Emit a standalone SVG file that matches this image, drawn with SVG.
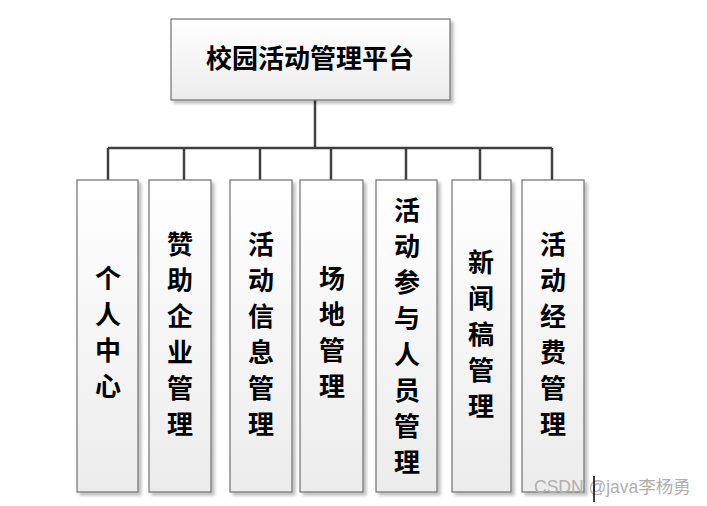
<svg xmlns="http://www.w3.org/2000/svg" width="707" height="506" viewBox="0 0 707 506">
<defs>
<linearGradient id="g" x1="0" y1="0" x2="0" y2="1"><stop offset="0" stop-color="#ffffff"/><stop offset="1" stop-color="#ececec"/></linearGradient>
<filter id="s" x="-10%" y="-10%" width="130%" height="130%"><feDropShadow dx="3" dy="3" stdDeviation="1.5" flood-color="#000" flood-opacity="0.25"/></filter>
</defs>
<style>
.b{fill:url(#g);stroke:#707070;stroke-width:1.2;filter:url(#s)}
.t{font-family:"Noto Sans CJK SC","Liberation Sans",sans-serif;font-weight:bold;font-size:26px;fill:#000;text-anchor:middle}
.c{stroke:#404040;stroke-width:2.5;fill:none}
</style>
<rect width="707" height="506" fill="#fff"/>
<g id="connectors">
<path class="c" d="M315 100V148M108 148H552M108 148V180M184 148V180M260 148V180M331 148V180M406 148V180M480 148V180M552 148V180"/>
</g>
<g id="root"><rect class="b" x="171" y="19" width="279" height="81"/><text class="t" x="310" y="68" font-size="27">校园活动管理平台</text></g>
<g id="n1"><rect class="b" x="77" y="180" width="61" height="312"/><text class="t" x="108" y="288">个<tspan x="108" dy="36">人</tspan><tspan x="108" dy="36">中</tspan><tspan x="108" dy="36">心</tspan></text></g>
<g id="n2"><rect class="b" x="149" y="180" width="62" height="312"/><text class="t" x="180" y="254">赞<tspan x="180" dy="36">助</tspan><tspan x="180" dy="36">企</tspan><tspan x="180" dy="36">业</tspan><tspan x="180" dy="36">管</tspan><tspan x="180" dy="36">理</tspan></text></g>
<g id="n3"><rect class="b" x="230" y="180" width="62" height="312"/><text class="t" x="261" y="254">活<tspan x="261" dy="36">动</tspan><tspan x="261" dy="36">信</tspan><tspan x="261" dy="36">息</tspan><tspan x="261" dy="36">管</tspan><tspan x="261" dy="36">理</tspan></text></g>
<g id="n4"><rect class="b" x="300" y="180" width="63" height="312"/><text class="t" x="332" y="288">场<tspan x="332" dy="36">地</tspan><tspan x="332" dy="36">管</tspan><tspan x="332" dy="36">理</tspan></text></g>
<g id="n5"><rect class="b" x="376" y="180" width="61" height="312"/><text class="t" x="407" y="220">活<tspan x="407" dy="36">动</tspan><tspan x="407" dy="36">参</tspan><tspan x="407" dy="36">与</tspan><tspan x="407" dy="36">人</tspan><tspan x="407" dy="36">员</tspan><tspan x="407" dy="36">管</tspan><tspan x="407" dy="36">理</tspan></text></g>
<g id="n6"><rect class="b" x="452" y="180" width="59" height="312"/><text class="t" x="481" y="272">新<tspan x="481" dy="36">闻</tspan><tspan x="481" dy="36">稿</tspan><tspan x="481" dy="36">管</tspan><tspan x="481" dy="36">理</tspan></text></g>
<g id="n7"><rect class="b" x="522" y="180" width="62" height="312"/><text class="t" x="553" y="254">活<tspan x="553" dy="36">动</tspan><tspan x="553" dy="36">经</tspan><tspan x="553" dy="36">费</tspan><tspan x="553" dy="36">管</tspan><tspan x="553" dy="36">理</tspan></text></g>
<text x="534" y="493" font-family="'Liberation Sans','Noto Sans CJK SC',sans-serif" font-size="17.5" fill="#b0b0b0">CSDN @java李杨勇</text>
<line x1="594" y1="476" x2="594" y2="502" stroke="#000" stroke-width="1.5"/>
</svg>
